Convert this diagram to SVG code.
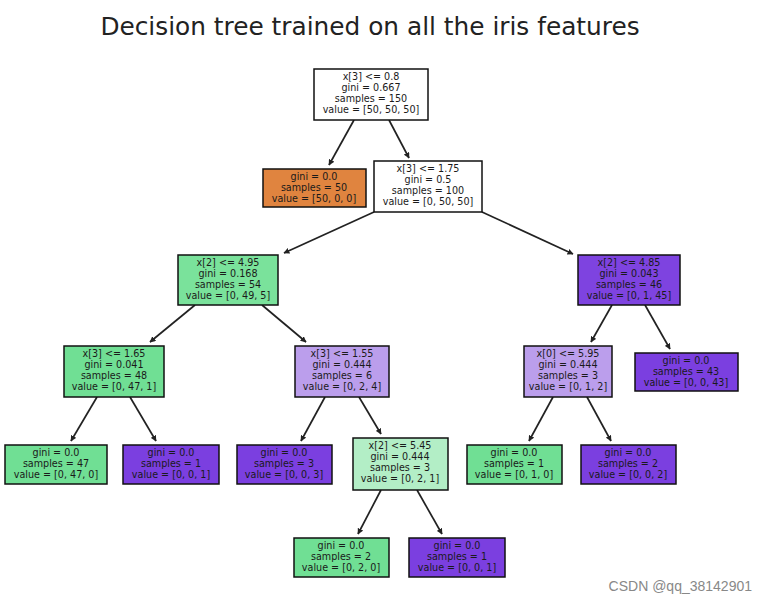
<svg xmlns="http://www.w3.org/2000/svg" width="768" height="604" viewBox="0 0 768 604">
<style>
.b{stroke:#111;stroke-width:1.5}
.t{font-family:"DejaVu Sans",sans-serif;font-size:9.6px;text-anchor:middle;fill:#1a1a1a}
.e{stroke:#222;stroke-width:1.7;fill:none;marker-end:url(#a)}
.w{fill:#fff}.o{fill:#e0843f}.g{fill:#70df94}.p{fill:#7b3fe0}
</style>
<defs><marker id="a" viewBox="0 0 10 10" refX="9" refY="5" markerWidth="6" markerHeight="6" orient="auto" markerUnits="userSpaceOnUse"><path d="M0,0 L10,5 L0,10 z" fill="#222"/></marker></defs>
<rect width="768" height="604" fill="#fff"/>
<text x="370" y="35" font-family="DejaVu Sans,sans-serif" font-size="24.8" text-anchor="middle" fill="#222">Decision tree trained on all the iris features</text>
<g id="edges">
<line class="e" x1="354" y1="120" x2="329" y2="165"/>
<line class="e" x1="389" y1="120" x2="409" y2="158"/>
<line class="e" x1="374" y1="212" x2="284" y2="253"/>
<line class="e" x1="482" y1="212" x2="573" y2="254"/>
<line class="e" x1="195" y1="305" x2="150" y2="342"/>
<line class="e" x1="262" y1="305" x2="306" y2="342"/>
<line class="e" x1="612" y1="305" x2="591" y2="342"/>
<line class="e" x1="645" y1="305" x2="670" y2="349"/>
<line class="e" x1="97" y1="397" x2="71" y2="441"/>
<line class="e" x1="130" y1="397" x2="156" y2="441"/>
<line class="e" x1="325" y1="397" x2="301" y2="441"/>
<line class="e" x1="359" y1="397" x2="381" y2="434"/>
<line class="e" x1="553" y1="397" x2="529" y2="441"/>
<line class="e" x1="587" y1="397" x2="611" y2="441"/>
<line class="e" x1="381" y1="490" x2="358" y2="534"/>
<line class="e" x1="417" y1="490" x2="442" y2="534"/>
</g>
<g id="n0"><rect class="b w" x="314" y="69" width="114" height="51"/><text class="t" x="371" y="80">x[3] &lt;= 0.8</text><text class="t" x="371" y="91">gini = 0.667</text><text class="t" x="371" y="102">samples = 150</text><text class="t" x="371" y="113">value = [50, 50, 50]</text></g>
<g id="n1"><rect class="b o" x="263" y="169" width="103" height="38"/><text class="t" x="314" y="180">gini = 0.0</text><text class="t" x="314" y="191">samples = 50</text><text class="t" x="314" y="202">value = [50, 0, 0]</text></g>
<g id="n2"><rect class="b w" x="374" y="161" width="108" height="51"/><text class="t" x="428" y="172">x[3] &lt;= 1.75</text><text class="t" x="428" y="183">gini = 0.5</text><text class="t" x="428" y="194">samples = 100</text><text class="t" x="428" y="205">value = [0, 50, 50]</text></g>
<g id="n3"><rect class="b" fill="#7ae29b" x="178" y="255" width="100" height="50"/><text class="t" x="228" y="266">x[2] &lt;= 4.95</text><text class="t" x="228" y="277">gini = 0.168</text><text class="t" x="228" y="288">samples = 54</text><text class="t" x="228" y="299">value = [0, 49, 5]</text></g>
<g id="n4"><rect class="b" fill="#7e43e0" x="578" y="255" width="102" height="50"/><text class="t" x="629" y="266">x[2] &lt;= 4.85</text><text class="t" x="629" y="277">gini = 0.043</text><text class="t" x="629" y="288">samples = 46</text><text class="t" x="629" y="299">value = [0, 1, 45]</text></g>
<g id="n5"><rect class="b g" x="64" y="346" width="100" height="51"/><text class="t" x="114" y="357">x[3] &lt;= 1.65</text><text class="t" x="114" y="368">gini = 0.041</text><text class="t" x="114" y="379">samples = 48</text><text class="t" x="114" y="390">value = [0, 47, 1]</text></g>
<g id="n6"><rect class="b" fill="#bb9eec" x="295" y="346" width="94" height="51"/><text class="t" x="342" y="357">x[3] &lt;= 1.55</text><text class="t" x="342" y="368">gini = 0.444</text><text class="t" x="342" y="379">samples = 6</text><text class="t" x="342" y="390">value = [0, 2, 4]</text></g>
<g id="n7"><rect class="b" fill="#bb9eec" x="524" y="346" width="88" height="51"/><text class="t" x="568" y="357">x[0] &lt;= 5.95</text><text class="t" x="568" y="368">gini = 0.444</text><text class="t" x="568" y="379">samples = 3</text><text class="t" x="568" y="390">value = [0, 1, 2]</text></g>
<g id="n8"><rect class="b p" x="635" y="353" width="103" height="38"/><text class="t" x="686" y="364">gini = 0.0</text><text class="t" x="686" y="375">samples = 43</text><text class="t" x="686" y="386">value = [0, 0, 43]</text></g>
<g id="n9"><rect class="b g" x="5" y="445" width="102" height="39"/><text class="t" x="56" y="456">gini = 0.0</text><text class="t" x="56" y="467">samples = 47</text><text class="t" x="56" y="478">value = [0, 47, 0]</text></g>
<g id="n10"><rect class="b p" x="123" y="445" width="96" height="39"/><text class="t" x="171" y="456">gini = 0.0</text><text class="t" x="171" y="467">samples = 1</text><text class="t" x="171" y="478">value = [0, 0, 1]</text></g>
<g id="n11"><rect class="b p" x="237" y="445" width="95" height="39"/><text class="t" x="284" y="456">gini = 0.0</text><text class="t" x="284" y="467">samples = 3</text><text class="t" x="284" y="478">value = [0, 0, 3]</text></g>
<g id="n12"><rect class="b" fill="#b3eec6" x="353" y="438" width="95" height="52"/><text class="t" x="400" y="449">x[2] &lt;= 5.45</text><text class="t" x="400" y="460">gini = 0.444</text><text class="t" x="400" y="471">samples = 3</text><text class="t" x="400" y="482">value = [0, 2, 1]</text></g>
<g id="n13"><rect class="b g" x="467" y="445" width="95" height="39"/><text class="t" x="514" y="456">gini = 0.0</text><text class="t" x="514" y="467">samples = 1</text><text class="t" x="514" y="478">value = [0, 1, 0]</text></g>
<g id="n14"><rect class="b p" x="581" y="445" width="95" height="39"/><text class="t" x="628" y="456">gini = 0.0</text><text class="t" x="628" y="467">samples = 2</text><text class="t" x="628" y="478">value = [0, 0, 2]</text></g>
<g id="n15"><rect class="b g" x="294" y="538" width="95" height="39"/><text class="t" x="341" y="549">gini = 0.0</text><text class="t" x="341" y="560">samples = 2</text><text class="t" x="341" y="571">value = [0, 2, 0]</text></g>
<g id="n16"><rect class="b p" x="409" y="538" width="96" height="39"/><text class="t" x="457" y="549">gini = 0.0</text><text class="t" x="457" y="560">samples = 1</text><text class="t" x="457" y="571">value = [0, 0, 1]</text></g>
<text x="752" y="591" font-family="Liberation Sans,sans-serif" font-size="14" text-anchor="end" fill="#888">CSDN @qq_38142901</text>
</svg>
